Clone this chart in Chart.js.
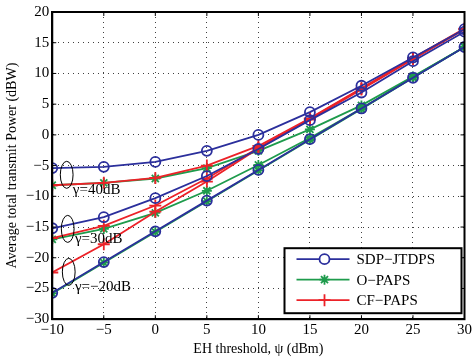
<!DOCTYPE html>
<html>
<head>
<meta charset="utf-8">
<script src="https://cdn.jsdelivr.net/npm/chart.js@4.4.0/dist/chart.umd.min.js"></script>
<style>
  html, body { margin: 0; padding: 0; background: #fff; }
  #wrap { width: 474px; height: 358px; }
</style>
</head>
<body>
<div id="wrap"><canvas id="plot_power"></canvas></div>
<script>
// EH threshold (dBm)
const psi = [-10, -5, 0, 5, 10, 15, 20, 25, 30];

// SDP-JTDPS
const sdp40 = [-5.4, -5.2, -4.4, -2.6, 0.0, 3.7, 8.0, 12.6, 17.2];
const sdp30 = [-15.2, -13.4, -10.3, -6.7, -2.3, 2.4, 6.9, 12.0, 16.8];
const sdp20 = [-25.7, -20.7, -15.7, -10.7, -5.7, -0.7, 4.3, 9.3, 14.3];
// O-PAPS
const opaps40 = [-8.2, -7.8, -7.1, -5.4, -2.6, 0.9, 4.8, 9.5, 14.3];
const opaps30 = [-17.0, -15.3, -12.7, -9.1, -4.9, -0.5, 4.3, 9.4, 14.3];
const opaps20 = [-25.8, -20.8, -15.8, -10.8, -5.8, -0.8, 4.2, 9.3, 14.3];
// CF-PAPS
const cfpaps40 = [-8.2, -7.8, -7.0, -5.0, -1.8, 2.7, 7.6, 12.5, 17.3];
const cfpaps30 = [-16.8, -14.8, -11.5, -7.1, -2.1, 2.6, 7.5, 12.4, 17.2];
const cfpaps20 = [-22.4, -17.8, -12.5, -7.6, -2.2, 2.5, 7.4, 12.3, 17.2];

const seriesNames = ['SDP\u2212JTDPS', 'O\u2212PAPS', 'CF\u2212PAPS'];
const groupLabels = ['\u03b3=40dB', '\u03b3=30dB', '\u03b3=\u221220dB'];

const BLUE = '#2b2f9c';
const GREEN = '#1e9b4c';
const RED = '#ec2228';
const FONT = "'Liberation Serif', 'DejaVu Serif', serif";

function pts(ys) {
    return ys.map((y, i) => ({x: psi[i], y: y}));
}

const styles = [
    {color: BLUE, pointStyle: 'circle', radius: 5},
    {color: GREEN, pointStyle: 'star', radius: 5},
    {color: RED, pointStyle: 'cross', radius: 6}
];

function ds(ys, k) {
    const s = styles[k];
    return {
        label: seriesNames[k],
        data: pts(ys),
        borderColor: s.color,
        backgroundColor: 'rgba(0,0,0,0)',
        borderWidth: 1.8,
        pointStyle: s.pointStyle,
        pointRadius: s.radius,
        pointBorderColor: s.color,
        pointBorderWidth: 1.8,
        pointBackgroundColor: 'rgba(0,0,0,0)',
        fill: false,
        tension: 0
    };
}

const datasets = [
    ds(sdp40, 0), ds(sdp30, 0), ds(sdp20, 0),
    ds(cfpaps40, 2), ds(cfpaps30, 2), ds(cfpaps20, 2),
    ds(opaps40, 1), ds(opaps30, 1), ds(opaps20, 1)
];

// frame, inward ticks, group annotations and legend box
const matlabLook = {
    id: 'matlabLook',
    afterDraw(chart) {
        const ctx = chart.ctx;
        const a = chart.chartArea;
        const xs = chart.scales.x, ys = chart.scales.y;
        ctx.save();
        ctx.strokeStyle = '#000';
        ctx.lineWidth = 1;
        // inward ticks
        ctx.beginPath();
        xs.ticks.forEach(t => {
            const px = xs.getPixelForValue(t.value);
            ctx.moveTo(px, a.bottom); ctx.lineTo(px, a.bottom - 4);
            ctx.moveTo(px, a.top); ctx.lineTo(px, a.top + 4);
        });
        ys.ticks.forEach(t => {
            const py = ys.getPixelForValue(t.value);
            ctx.moveTo(a.left, py); ctx.lineTo(a.left + 4, py);
            ctx.moveTo(a.right, py); ctx.lineTo(a.right - 4, py);
        });
        ctx.stroke();
        ctx.lineWidth = 2;
        ctx.strokeRect(a.left, a.top, a.right - a.left, a.bottom - a.top);

        // ellipses + labels for gamma groups
        const ell = [[-8.6, -6.5], [-8.5, -15.3], [-8.4, -22.3]];
        const lab = [[-8.0, -9.0], [-7.8, -16.9], [-7.8, -24.7]];
        const rx = Math.abs(xs.getPixelForValue(0.62) - xs.getPixelForValue(0));
        const ry = Math.abs(ys.getPixelForValue(2.2) - ys.getPixelForValue(0));
        ctx.lineWidth = 1;
        ctx.font = '15px ' + FONT;
        ctx.fillStyle = '#000';
        ctx.textBaseline = 'middle';
        ctx.textAlign = 'left';
        for (let i = 0; i < 3; i++) {
            ctx.beginPath();
            ctx.ellipse(xs.getPixelForValue(ell[i][0]), ys.getPixelForValue(ell[i][1]), rx, ry, 0, 0, Math.PI * 2);
            ctx.stroke();
            ctx.fillText(groupLabels[i], xs.getPixelForValue(lab[i][0]), ys.getPixelForValue(lab[i][1]));
        }

        // legend
        const bw = 177, bh = 65;
        const bx = a.right - 3 - bw, by = a.bottom - 6 - bh;
        ctx.fillStyle = '#fff';
        ctx.fillRect(bx, by, bw, bh);
        ctx.lineWidth = 2;
        ctx.strokeRect(bx, by, bw, bh);
        ctx.font = '15px ' + FONT;
        for (let k = 0; k < 3; k++) {
            const d = chart.data.datasets[k === 0 ? 0 : (k === 1 ? 6 : 3)];
            const ly = by + 11 + k * 20.5;
            ctx.strokeStyle = d.borderColor;
            ctx.lineWidth = 1.8;
            ctx.beginPath();
            ctx.moveTo(bx + 12, ly); ctx.lineTo(bx + 65, ly);
            ctx.stroke();
            Chart.helpers.drawPoint(ctx, {
                pointStyle: d.pointStyle, radius: d.pointRadius, borderWidth: 1.8, rotation: 0
            }, bx + 40, ly);
            ctx.fillStyle = '#000';
            ctx.fillText(d.label, bx + 72, ly + 1);
        }
        ctx.restore();
    }
};

const minus = v => String(v).replace('-', '\u2212');

window.onload = function() {
    let ctx = document.getElementById('plot_power').getContext('2d');
    let plot_power = new Chart(ctx, {
        type: 'line',
        data: {datasets: datasets},
        options: {
            responsive: true,
            maintainAspectRatio: false,
            animation: false,
            layout: {padding: {top: 0, right: 1, left: 4, bottom: 0}},
            plugins: {
                legend: {display: false},
                tooltip: {enabled: false}
            },
            scales: {
                x: {
                    type: 'linear',
                    min: -10,
                    max: 30,
                    ticks: {
                        stepSize: 5,
                        color: '#000',
                        font: {family: FONT, size: 15},
                        padding: 2,
                        callback: minus
                    },
                    grid: {color: 'rgba(0,0,0,0.75)', lineWidth: 1, drawTicks: false},
                    border: {display: true, color: '#000', width: 2, dash: [1, 4]},
                    title: {
                        display: true,
                        text: 'EH threshold, \u03c8 (dBm)',
                        color: '#000',
                        font: {family: FONT, size: 14},
                        padding: {top: 0, bottom: 0}
                    }
                },
                y: {
                    min: -30,
                    max: 20,
                    ticks: {
                        stepSize: 5,
                        color: '#000',
                        font: {family: FONT, size: 15},
                        padding: 3,
                        callback: minus
                    },
                    grid: {color: 'rgba(0,0,0,0.75)', lineWidth: 1, drawTicks: false},
                    border: {display: true, color: '#000', width: 2, dash: [1, 4]},
                    title: {
                        display: true,
                        text: 'Average total transmit Power (dBW)',
                        color: '#000',
                        font: {family: FONT, size: 14},
                        padding: {top: 0, bottom: 2}
                    }
                }
            }
        },
        plugins: [matlabLook]
    });
};
</script>
</body>
</html>
